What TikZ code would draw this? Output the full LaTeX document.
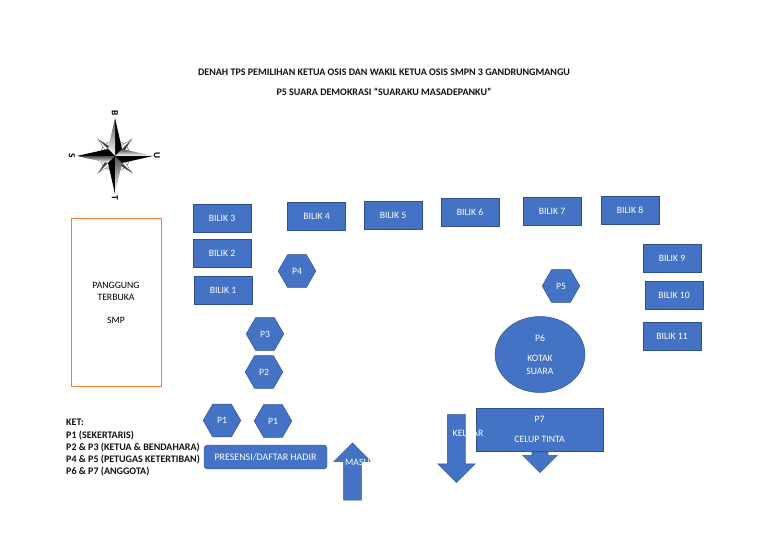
\documentclass[tikz,border=0pt]{standalone}
\usepackage{fontspec}
\setmainfont{Carlito}
\usepackage{xcolor}
\usetikzlibrary{arrows.meta, positioning, shapes.geometric, shapes.arrows}
\definecolor{tpsblue}{HTML}{4472C4}
\definecolor{tpsline}{HTML}{2F528F}
\definecolor{tpsorange}{HTML}{ED7D31}
\definecolor{tpstext}{HTML}{111111}

\begin{document}
\begin{tikzpicture}[
  x=0.03cm, y=-0.03cm,
  every node/.style={font=\fontsize{8.3}{11}\selectfont, align=center, inner sep=0pt},
  solid/.style={draw=tpsline, line width=0.4pt, fill=tpsblue, text=white},
  bilik/.style={solid, rectangle, minimum width=1.74cm, minimum height=0.84cm},
  petugas/.style={solid, regular polygon, regular polygon sides=6, minimum size=1.13cm},
  panah/.style={solid, single arrow, single arrow head indent=0pt, minimum height=#1},
  label/.style={text=white},
  ket/.style={text=tpstext, font=\fontsize{8.55}{10.5}\selectfont\bfseries},
  mata/.style={text=black, font=\fontsize{8}{8}\selectfont\bfseries, rotate=-90}
]
\useasboundingbox (0,0) rectangle (768,543);

% judul
\node[ket] (judul1) at (384,72) {DENAH TPS PEMILIHAN KETUA OSIS DAN WAKIL KETUA OSIS SMPN 3 GANDRUNGMANGU};
\node[ket] (judul2) at (384,92) {P5 SUARA DEMOKRASI ``SUARAKU MASADEPANKU''};

% mata angin
\draw[gray, line width=0.5pt] (115,156) circle (15);
\draw[gray, line width=0.3pt] (115,156) circle (13);
\foreach \ang in {45,135,225,315} {
  \begin{scope}[shift={(115,156)}, rotate=\ang]
    \fill[black!75] (0,0) -- (0,-24) -- (3.5,-8) -- cycle;
    \filldraw[draw=black!70, line width=0.2pt, fill=white] (0,0) -- (0,-24) -- (-3.5,-8) -- cycle;
  \end{scope}
}
\foreach \ang in {0,90,180,270} {
  \begin{scope}[shift={(115,156)}, rotate=\ang]
    \fill[black] (0,0) -- (0,-38) -- (7,-7) -- cycle;
    \shade[top color=black!70, bottom color=white] (0,0) -- (0,-38) -- (-7,-7) -- cycle;
  \end{scope}
}
\node[mata] (utara) at (115,113) {B};
\node[mata] (timur) at (157,156) {U};
\node[mata] (barat) at (72,156) {S};
\node[mata] (selatan) at (115,198) {T};

% panggung
\node[draw=tpsorange, line width=0.5pt, fill=white, minimum width=2.7cm, minimum height=5.04cm] (panggung) at (116,302) {};
\node (panggungtext) at (116,302.5) {PANGGUNG\\TERBUKA\\[8pt]SMP};

% bilik
\node[bilik] (bilik3) at (222,218) {BILIK 3};
\node[bilik] (bilik2) at (222,253) {BILIK 2};
\node[bilik] (bilik1) at (223,290) {BILIK 1};
\node[bilik] (bilik4) at (316.5,216) {BILIK 4};
\node[bilik] (bilik5) at (393,215) {BILIK 5};
\node[bilik] (bilik6) at (470,212.5) {BILIK 6};
\node[bilik] (bilik7) at (552,211.5) {BILIK 7};
\node[bilik] (bilik8) at (630,210.5) {BILIK 8};
\node[bilik] (bilik9) at (672,258) {BILIK 9};
\node[bilik] (bilik10) at (674,295.5) {BILIK 10};
\node[bilik] (bilik11) at (672,336.5) {BILIK 11};

% petugas
\node[petugas] (p4) at (297,271) {P4};
\node[petugas] (p5) at (561,286) {P5};
\node[petugas] (p3) at (265,334) {P3};
\node[petugas] (p2) at (264,372) {P2};
\node[petugas] (p1a) at (222,420.5) {P1};
\node[petugas] (p1b) at (273,421) {P1};
\node[solid, ellipse, minimum width=2.7cm, minimum height=2.28cm] (p6) at (540,354.5) {P6\\[6pt]KOTAK\\SUARA};

% panah tinta di bawah P7
\node[panah=0.84cm, inner sep=0.24cm, single arrow head extend=0.27cm, shape border rotate=270] (panahtinta) at (540,454.5) {};
\node[solid, rectangle, minimum width=3.81cm, minimum height=1.29cm] (p7) at (539.5,429.5) {P7\\[6pt]CELUP TINTA};

% presensi
\node[solid, rectangle, rounded corners=3pt, minimum width=3.69cm, minimum height=0.72cm, font=\fontsize{8.5}{10}\selectfont] (presensi) at (265.5,457) {PRESENSI/DAFTAR HADIR};

% keluar dan masuk
\node[panah=2.04cm, inner sep=0.27cm, single arrow head extend=0.285cm, shape border rotate=270] (keluar) at (456.5,444) {};
\node[label] (keluartext) at (468,433) {KELUAR};
\node[panah=1.71cm, inner sep=0.26cm, single arrow head extend=0.29cm, shape border rotate=90] (masuk) at (352.5,476) {};
\node[label] (masuktext) at (360,462) {MASUK};

% keterangan
\node[ket, align=left, anchor=north west] (ket) at (66,419) {KET:\\P1 (SEKERTARIS)\\P2 \& P3 (KETUA \& BENDAHARA)\\P4 \& P5 (PETUGAS KETERTIBAN)\\P6 \& P7 (ANGGOTA)};
\end{tikzpicture}
\end{document}
